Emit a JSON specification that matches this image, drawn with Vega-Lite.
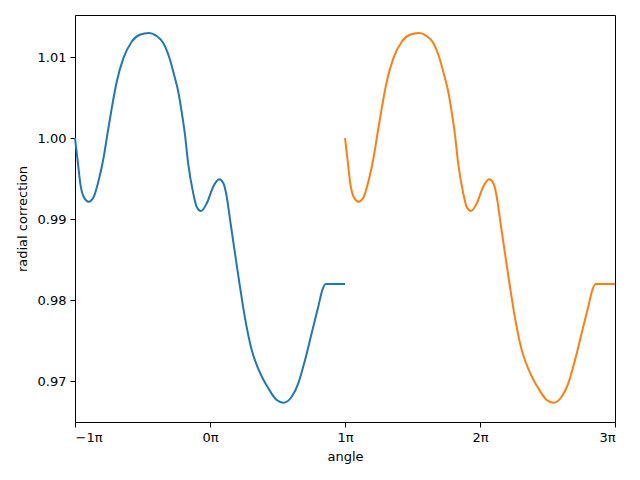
{
  "$schema": "https://vega.github.io/schema/vega-lite/v6.json",
  "width": 540,
  "height": 407,
  "autosize": {"type": "none"},
  "padding": {"left": 75, "top": 15, "right": 25, "bottom": 58},
  "background": "white",
  "config": {
    "font": "DejaVu Sans",
    "view": {"stroke": "black", "strokeWidth": 1},
    "axis": {
      "grid": false,
      "domain": false,
      "tickColor": "black",
      "tickSize": 5,
      "tickWidth": 1,
      "labelColor": "black",
      "labelFontSize": 13,
      "labelPadding": 4,
      "titleColor": "black",
      "titleFontSize": 13,
      "titleFontWeight": "normal"
    }
  },
  "data": {
    "values": [
      {"angle": -1.000, "corr": 1.00000, "set": "a"},
      {"angle": -0.978, "corr": 0.99688, "set": "a"},
      {"angle": -0.961, "corr": 0.99441, "set": "a"},
      {"angle": -0.936, "corr": 0.99275, "set": "a"},
      {"angle": -0.899, "corr": 0.99214, "set": "a"},
      {"angle": -0.861, "corr": 0.99275, "set": "a"},
      {"angle": -0.824, "corr": 0.99481, "set": "a"},
      {"angle": -0.787, "corr": 0.99769, "set": "a"},
      {"angle": -0.761, "corr": 1.00037, "set": "a"},
      {"angle": -0.728, "corr": 1.00367, "set": "a"},
      {"angle": -0.691, "corr": 1.00695, "set": "a"},
      {"angle": -0.642, "corr": 1.00984, "set": "a"},
      {"angle": -0.580, "corr": 1.01189, "set": "a"},
      {"angle": -0.520, "corr": 1.01275, "set": "a"},
      {"angle": -0.452, "corr": 1.01298, "set": "a"},
      {"angle": -0.400, "corr": 1.01265, "set": "a"},
      {"angle": -0.345, "corr": 1.01170, "set": "a"},
      {"angle": -0.300, "corr": 1.00985, "set": "a"},
      {"angle": -0.265, "corr": 1.00775, "set": "a"},
      {"angle": -0.235, "corr": 1.00572, "set": "a"},
      {"angle": -0.210, "corr": 1.00325, "set": "a"},
      {"angle": -0.185, "corr": 1.00037, "set": "a"},
      {"angle": -0.162, "corr": 0.99690, "set": "a"},
      {"angle": -0.124, "corr": 0.99317, "set": "a"},
      {"angle": -0.099, "corr": 0.99152, "set": "a"},
      {"angle": -0.067, "corr": 0.99099, "set": "a"},
      {"angle": -0.024, "corr": 0.99194, "set": "a"},
      {"angle": 0.024, "corr": 0.99399, "set": "a"},
      {"angle": 0.067, "corr": 0.99490, "set": "a"},
      {"angle": 0.099, "corr": 0.99441, "set": "a"},
      {"angle": 0.124, "corr": 0.99275, "set": "a"},
      {"angle": 0.148, "corr": 0.99000, "set": "a"},
      {"angle": 0.185, "corr": 0.98577, "set": "a"},
      {"angle": 0.222, "corr": 0.98164, "set": "a"},
      {"angle": 0.259, "corr": 0.97780, "set": "a"},
      {"angle": 0.309, "corr": 0.97383, "set": "a"},
      {"angle": 0.358, "corr": 0.97150, "set": "a"},
      {"angle": 0.432, "corr": 0.96910, "set": "a"},
      {"angle": 0.494, "corr": 0.96765, "set": "a"},
      {"angle": 0.543, "corr": 0.96732, "set": "a"},
      {"angle": 0.605, "corr": 0.96806, "set": "a"},
      {"angle": 0.654, "corr": 0.96972, "set": "a"},
      {"angle": 0.704, "corr": 0.97259, "set": "a"},
      {"angle": 0.753, "corr": 0.97589, "set": "a"},
      {"angle": 0.802, "corr": 0.97917, "set": "a"},
      {"angle": 0.832, "corr": 0.98123, "set": "a"},
      {"angle": 0.857, "corr": 0.98198, "set": "a"},
      {"angle": 1.000, "corr": 0.98198, "set": "a"},
      {"angle": 1.000, "corr": 1.00000, "set": "b"},
      {"angle": 1.022, "corr": 0.99688, "set": "b"},
      {"angle": 1.039, "corr": 0.99441, "set": "b"},
      {"angle": 1.064, "corr": 0.99275, "set": "b"},
      {"angle": 1.101, "corr": 0.99214, "set": "b"},
      {"angle": 1.139, "corr": 0.99275, "set": "b"},
      {"angle": 1.176, "corr": 0.99481, "set": "b"},
      {"angle": 1.213, "corr": 0.99769, "set": "b"},
      {"angle": 1.239, "corr": 1.00037, "set": "b"},
      {"angle": 1.272, "corr": 1.00367, "set": "b"},
      {"angle": 1.309, "corr": 1.00695, "set": "b"},
      {"angle": 1.358, "corr": 1.00984, "set": "b"},
      {"angle": 1.420, "corr": 1.01189, "set": "b"},
      {"angle": 1.480, "corr": 1.01275, "set": "b"},
      {"angle": 1.548, "corr": 1.01298, "set": "b"},
      {"angle": 1.600, "corr": 1.01265, "set": "b"},
      {"angle": 1.655, "corr": 1.01170, "set": "b"},
      {"angle": 1.700, "corr": 1.00985, "set": "b"},
      {"angle": 1.735, "corr": 1.00775, "set": "b"},
      {"angle": 1.765, "corr": 1.00572, "set": "b"},
      {"angle": 1.790, "corr": 1.00325, "set": "b"},
      {"angle": 1.815, "corr": 1.00037, "set": "b"},
      {"angle": 1.838, "corr": 0.99690, "set": "b"},
      {"angle": 1.876, "corr": 0.99317, "set": "b"},
      {"angle": 1.901, "corr": 0.99152, "set": "b"},
      {"angle": 1.933, "corr": 0.99099, "set": "b"},
      {"angle": 1.976, "corr": 0.99194, "set": "b"},
      {"angle": 2.024, "corr": 0.99399, "set": "b"},
      {"angle": 2.067, "corr": 0.99490, "set": "b"},
      {"angle": 2.099, "corr": 0.99441, "set": "b"},
      {"angle": 2.124, "corr": 0.99275, "set": "b"},
      {"angle": 2.148, "corr": 0.99000, "set": "b"},
      {"angle": 2.185, "corr": 0.98577, "set": "b"},
      {"angle": 2.222, "corr": 0.98164, "set": "b"},
      {"angle": 2.259, "corr": 0.97780, "set": "b"},
      {"angle": 2.309, "corr": 0.97383, "set": "b"},
      {"angle": 2.358, "corr": 0.97150, "set": "b"},
      {"angle": 2.432, "corr": 0.96910, "set": "b"},
      {"angle": 2.494, "corr": 0.96765, "set": "b"},
      {"angle": 2.543, "corr": 0.96732, "set": "b"},
      {"angle": 2.605, "corr": 0.96806, "set": "b"},
      {"angle": 2.654, "corr": 0.96972, "set": "b"},
      {"angle": 2.704, "corr": 0.97259, "set": "b"},
      {"angle": 2.753, "corr": 0.97589, "set": "b"},
      {"angle": 2.802, "corr": 0.97917, "set": "b"},
      {"angle": 2.832, "corr": 0.98123, "set": "b"},
      {"angle": 2.857, "corr": 0.98198, "set": "b"},
      {"angle": 3.000, "corr": 0.98198, "set": "b"}
    ]
  },
  "mark": {"type": "line", "strokeWidth": 2, "interpolate": "monotone"},
  "encoding": {
    "x": {
      "field": "angle",
      "type": "quantitative",
      "title": "angle",
      "scale": {"domain": [-1, 3], "nice": false, "zero": false},
      "axis": {
        "values": [-1, 0, 1, 2, 3],
        "labelExpr": "(datum.value < 0 ? '−' + abs(datum.value) : datum.value) + 'π'",
        "titlePadding": 6
      }
    },
    "y": {
      "field": "corr",
      "type": "quantitative",
      "title": "radial correction",
      "scale": {"domain": [0.96494, 1.01519], "nice": false, "zero": false},
      "axis": {
        "values": [0.97, 0.98, 0.99, 1.0, 1.01],
        "format": ".2f",
        "titlePadding": 8
      }
    },
    "color": {
      "field": "set",
      "type": "nominal",
      "scale": {"domain": ["a", "b"], "range": ["#1f77b4", "#ff7f0e"]},
      "legend": null
    }
  }
}
